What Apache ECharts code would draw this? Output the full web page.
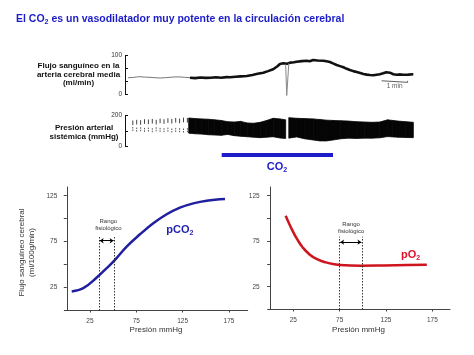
<!DOCTYPE html>
<html><head><meta charset="utf-8">
<script src="https://cdn.jsdelivr.net/npm/echarts@6/dist/echarts.min.js"></script>
<style>html,body{margin:0;padding:0;background:#fff}#c{width:474px;height:355px}</style>
</head><body><div id="c"></div><script>
// ---- Trazo 1: flujo sanguíneo (ml/min) vs tiempo (min)
const flujoFinoT = [0.12,0.3,0.45,0.58,0.75,0.96,1.15,1.35,1.55,1.73,1.92,2.12,2.3,2.5];
const flujoFinoV = [43,43.5,45,45.6,44.5,44,43,42.2,43,44,45,45,44,43];
const flujoT = [2.5,2.7,2.9,3.1,3.3,3.5,3.7,3.9,4.04,4.25,4.45,4.68,4.9,5.1,5.32,5.5,5.7,5.85,5.96,6.09,6.15,6.24,6.35,6.5,6.6,6.8,6.99,7.1,7.24,7.4,7.63,7.75,7.88,8.0,8.14,8.27,8.4,8.53,8.65,8.78,8.91,9.05,9.17,9.3,9.42,9.55,9.68,9.8,9.93,10.05,10.19,10.32,10.45,10.6,10.7,10.9,11.09];
const flujoV = [43,42,43.5,42.5,43,44,43,44.5,44,45.5,46.5,47.5,50,53,56,60,65,72,78.5,80.3,76.7,79,82,83,84.5,86,87,85.5,89,87.5,87,85.5,83.7,80,76,73,70,66,63,60,58,55,52.6,51,50,49.5,50.8,52,54.4,57,56,52,50.8,51.5,50.8,51,51.8];
const picoFlujoT = [6.18,6.22,6.26,6.3];
const picoFlujoV = [77,-3,-3,80];
const escalaT = [9.87,9.87,10.87,10.87];
const escalaV = [35,31,31,35];
const escalaEtiqueta = [[10.37,20]];
// ---- Trazo 2: presión arterial (mmHg)
const latidoT = [0.30,0.45,0.60,0.75,0.90,1.05,1.20,1.35,1.50,1.65,1.80,1.95,2.10,2.25,2.40];
const latidoSis = [168,172,170,176,174,178,172,180,176,182,178,184,180,186,184];
const latidoDia = [96,92,94,90,92,88,94,90,88,92,86,90,88,86,88];
const bandaT = [2.45,2.7,2.95,3.2,3.45,3.7,3.95,4.2,4.45,4.7,4.95,5.2,5.45,5.7,5.96,6.18,6.30,6.6,6.9,7.24,7.5,7.75,8.0,8.3,8.6,8.9,9.2,9.5,9.8,10.1,10.3,10.5,10.8,11.09];
const bandaMax = [184,180,178,176,172,168,160,158,162,152,150,156,168,182,178,172,186,182,180,178,174,170,168,166,164,160,158,156,158,172,168,164,160,156];
const bandaMin = [86,82,80,76,74,72,78,70,66,63,60,57,60,63,55,52,54,62,50,42,36,36,42,50,54,52,54,54,56,64,62,60,58,57];
const bandaCorte = 16;
// ---- Periodo de CO2 (min)
const co2Periodo = [3.72, 8.0];
// ---- Curvas inferiores
const ejeXTicks = [25,75,125,175];
const ejeYTicks = [25,50,75,100,125];
const ejeYEtiquetas = [25,75,125];
const pco2X = [5.3,17.8,32.3,43,52,64.6,79,93.3,107.8,122.1,136.5,150.9,170.7];
const pco2Y = [20.7,24.3,35.9,46.1,55.1,69.6,83,95,104.8,112,116.7,119.6,121.4];
const pco2Rango = [35,51];
const po2X = [16.8,20,24,29,35,42,50,60,75.4,97.7,122.9,148,169];
const po2Y = [103,95.5,87,77.5,68.5,61,55.5,51.8,49,48.2,48.4,48.8,49.2];
const po2Rango = [75,99];

const FF = '"Liberation Sans", Arial, Helvetica, sans-serif';
const AZUL = '#1c1cc8';
const zip = (a,b) => a.map((v,i)=>[v,b[i]]);

function rangoMarks(r, topY, arrowY){
  const dot = {type:[1.5,1.5],color:'#333',width:1};
  return {
    silent:true, animation:false, label:{show:false},
    data:[
      [{coord:[r[0],0],symbol:'none',lineStyle:dot},{coord:[r[0],topY],symbol:'none'}],
      [{coord:[r[1],0],symbol:'none',lineStyle:dot},{coord:[r[1],topY],symbol:'none'}],
      [{coord:[r[0]+0.5,arrowY],symbol:'arrow',symbolSize:[4,4],lineStyle:{type:'solid',color:'#000',width:1}},{coord:[r[1]-0.5,arrowY],symbol:'arrow',symbolSize:[4,4]}]
    ]
  };
}
function bottomX(idx, min, max){
  return {gridIndex:idx, type:'value', min, max,
    axisLine:{show:true,lineStyle:{color:'#444',width:1}},
    axisTick:{show:true,length:2,customValues:ejeXTicks,lineStyle:{color:'#444'}},
    axisLabel:{customValues:ejeXTicks,fontSize:6.5,color:'#444',margin:7,fontFamily:FF},
    splitLine:{show:false}};
}
function bottomY(idx, max, margin){
  return {gridIndex:idx, type:'value', min:0, max,
    axisLine:{show:true,lineStyle:{color:'#444',width:1}},
    axisTick:{show:true,length:3,customValues:ejeYTicks,lineStyle:{color:'#444'}},
    axisLabel:{customValues:ejeYEtiquetas,fontSize:6.5,color:'#444',margin,fontFamily:FF},
    splitLine:{show:false}};
}
function topY(idx, max, ticks, labels){
  return {gridIndex:idx, type:'value', min:0, max,
    axisLine:{show:true,lineStyle:{color:'#111',width:1}},
    axisTick:{show:true,inside:true,length:3,customValues:ticks,lineStyle:{color:'#111'}},
    axisLabel:{customValues:labels,fontSize:6.5,color:'#333',margin:3,fontFamily:FF},
    splitLine:{show:false}};
}
const timeX = i => ({gridIndex:i,type:'value',min:0,max:12,show:false});

const chart = echarts.init(document.getElementById('c'), null, {renderer:'canvas'});
chart.setOption({
  animation:false,
  backgroundColor:'#fff',
  grid:[
    {left:125,top:55.7,width:312,height:38.6},
    {left:125,top:115.5,width:312,height:31},
    {left:125,top:150,width:312,height:10},
    {left:64.3,top:187,width:183.4,height:123.5},
    {left:267.7,top:187,width:182.3,height:122.5}
  ],
  xAxis:[timeX(0),timeX(1),timeX(2),bottomX(3,-2.7,195.2),bottomX(4,-2.6,194)],
  yAxis:[
    topY(0,100,[0,33.33,66.67,100],[0,100]),
    topY(1,200,[0,100,200],[0,200]),
    {gridIndex:2,type:'value',min:0,max:1,show:false},
    bottomY(3,134.5,7),
    bottomY(4,134.6,8)
  ],
  series:[
    {type:'line',xAxisIndex:0,yAxisIndex:0,data:zip(flujoFinoT,flujoFinoV),symbol:'none',lineStyle:{color:'#777',width:1}},
    {type:'line',xAxisIndex:0,yAxisIndex:0,data:zip(flujoT,flujoV),symbol:'none',lineStyle:{color:'#111',width:2.6,join:'round'}},
    {type:'line',xAxisIndex:0,yAxisIndex:0,data:zip(picoFlujoT,picoFlujoV),symbol:'none',clip:false,lineStyle:{color:'#888',width:1}},
    {type:'line',xAxisIndex:0,yAxisIndex:0,data:zip(escalaT,escalaV),symbol:'none',lineStyle:{color:'#333',width:0.8}},
    {type:'scatter',xAxisIndex:0,yAxisIndex:0,data:escalaEtiqueta,symbolSize:0,
      label:{show:true,position:'inside',formatter:'1 min',fontSize:6.5,color:'#333',fontFamily:FF}},
    {type:'custom',xAxisIndex:1,yAxisIndex:1,data:latidoT.map((t,i)=>[t,latidoSis[i],latidoDia[i]]),
      encode:{x:0,y:[1,2]},
      renderItem:function(p,api){
        const t=api.value(0), s=api.value(1), d=api.value(2);
        const a=api.coord([t,s]), b=api.coord([t,s-30]), c=api.coord([t,d+30]), e=api.coord([t,d]);
        return {type:'group',children:[
          {type:'line',shape:{x1:a[0],y1:a[1],x2:b[0],y2:b[1]},style:{stroke:'#444',lineWidth:1}},
          {type:'line',shape:{x1:c[0],y1:c[1],x2:e[0],y2:e[1]},style:{stroke:'#555',lineWidth:1,lineDash:[1.5,1]}}
        ]};
      }},
    {type:'custom',xAxisIndex:1,yAxisIndex:1,data:bandaT.map((t,i)=>[t,bandaMax[i],bandaMin[i]]),
      encode:{x:0,y:[1,2]},
      renderItem:function(p,api){
        const i=p.dataIndex;
        if(i>=bandaT.length-1 || i+1===bandaCorte) return null;
        const pts=[api.coord([bandaT[i],bandaMax[i]]),api.coord([bandaT[i+1],bandaMax[i+1]]),
                   api.coord([bandaT[i+1],bandaMin[i+1]]),api.coord([bandaT[i],bandaMin[i]])];
        return {type:'polygon',shape:{points:pts},style:{fill:'#050505',stroke:'#050505',lineWidth:0.8}};
      }},
    {type:'line',xAxisIndex:2,yAxisIndex:2,data:[[co2Periodo[0],0.5],[co2Periodo[1],0.5]],symbol:'none',
      lineStyle:{color:AZUL,width:4,cap:'butt'}},
    {type:'line',xAxisIndex:3,yAxisIndex:3,data:zip(pco2X,pco2Y),symbol:'none',smooth:0.4,
      lineStyle:{color:'#1f1fa0',width:2.5},
      markLine:rangoMarks(pco2Rango,80,76),
      markPoint:{silent:true,symbol:'circle',symbolSize:0,data:[
        {coord:[44.8,93.5],label:{show:true,position:'inside',formatter:'Rango\nfisiológico',fontSize:6,lineHeight:7,color:'#333',fontFamily:FF}},
        {coord:[122,87.5],label:{show:true,position:'inside',formatter:'{a|pCO}{b|2}',
          rich:{a:{fontSize:11,fontWeight:'bold',color:'#1f1fb0',fontFamily:FF},b:{fontSize:7,fontWeight:'bold',color:'#1f1fb0',fontFamily:FF,padding:[6,0,0,0]}}}}
      ]}},
    {type:'line',xAxisIndex:4,yAxisIndex:4,data:zip(po2X,po2Y),symbol:'none',smooth:0.5,
      lineStyle:{color:'#d0141e',width:2.5},
      markLine:rangoMarks(po2Rango,80,74),
      markPoint:{silent:true,symbol:'circle',symbolSize:0,data:[
        {coord:[87.3,89.6],label:{show:true,position:'inside',formatter:'Rango\nfisiológico',fontSize:6,lineHeight:7,color:'#333',fontFamily:FF}},
        {coord:[151.5,60],label:{show:true,position:'inside',formatter:'{a|pO}{b|2}',
          rich:{a:{fontSize:11,fontWeight:'bold',color:'#e0102a',fontFamily:FF},b:{fontSize:7,fontWeight:'bold',color:'#e0102a',fontFamily:FF,padding:[6,0,0,0]}}}}
      ]}}
  ],
  graphic:[
    {type:'text',left:16,top:13.5,style:{text:'{a|El CO}{s|2}{a| es un vasodilatador muy potente en la circulación cerebral}',
      rich:{a:{fontSize:10.5,fontWeight:'bold',fill:AZUL,fontFamily:FF},s:{fontSize:7,fontWeight:'bold',fill:AZUL,fontFamily:FF,padding:[6,0,0,0]}}}},
    {type:'text',x:78.5,y:74.5,style:{text:'Flujo sanguíneo en la\narteria cerebral media\n(ml/min)',align:'center',verticalAlign:'middle',
      fontSize:8,fontWeight:'bold',lineHeight:8.5,fill:'#111',fontFamily:FF}},
    {type:'text',x:84,y:132,style:{text:'Presión arterial\nsistémica (mmHg)',align:'center',verticalAlign:'middle',
      fontSize:8,fontWeight:'bold',lineHeight:9,fill:'#111',fontFamily:FF}},
    {type:'text',x:277,y:167,style:{text:'{a|CO}{s|2}',align:'center',verticalAlign:'middle',
      rich:{a:{fontSize:11,fontWeight:'bold',fill:AZUL,fontFamily:FF},s:{fontSize:7,fontWeight:'bold',fill:AZUL,fontFamily:FF,padding:[6,0,0,0]}}}},
    {type:'text',x:26.7,y:252.5,rotation:Math.PI/2,style:{text:'Flujo sanguíneo cerebral\n(ml/100g/min)',align:'center',verticalAlign:'middle',
      fontSize:8,lineHeight:10,fill:'#333',fontFamily:FF}},
    {type:'text',x:156,y:329.5,style:{text:'Presión mmHg',align:'center',verticalAlign:'middle',fontSize:8,fill:'#333',fontFamily:FF}},
    {type:'text',x:358.5,y:329.5,style:{text:'Presión mmHg',align:'center',verticalAlign:'middle',fontSize:8,fill:'#333',fontFamily:FF}}
  ]
});
</script></body></html>
